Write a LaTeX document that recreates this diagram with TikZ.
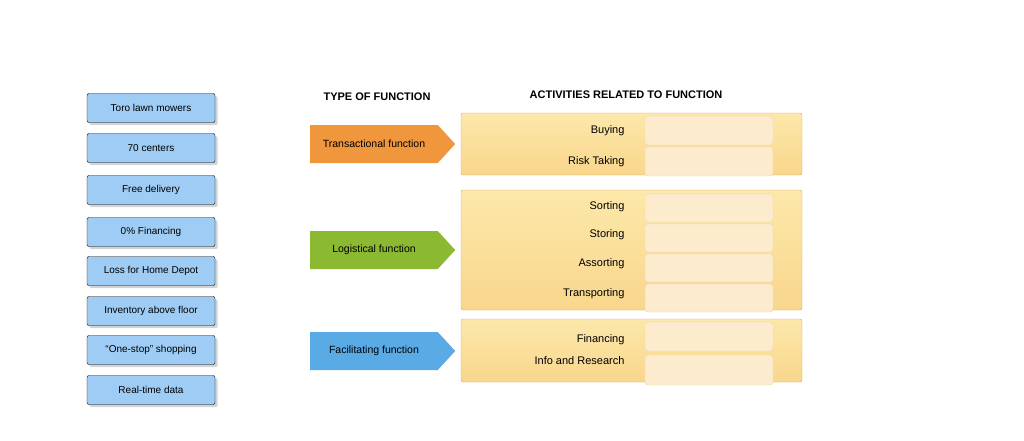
\documentclass[tikz,border=0pt]{standalone}
\usepackage{fontspec}
\setmainfont{Liberation Sans}
\usetikzlibrary{shapes.symbols,shadows}
\definecolor{itemblue}{RGB}{158,204,244}
\definecolor{panelfill}{RGB}{249,214,140}
\definecolor{paneltop}{RGB}{252,232,170}
\definecolor{paneldraw}{RGB}{214,170,100}
\definecolor{slotfill}{RGB}{252,236,205}
\definecolor{slotdraw}{RGB}{240,215,170}
\definecolor{tranorange}{RGB}{240,150,60}
\definecolor{loggreen}{RGB}{140,185,50}
\definecolor{facblue}{RGB}{90,170,230}
\tikzset{
  item/.style={draw=black,fill=itemblue,rounded corners=2pt,minimum width=128pt,minimum height=29pt,font=\fontsize{10}{12}\selectfont,drop shadow={opacity=.35}},
  kind/.style={signal,signal to=east,signal pointer angle=95,draw=none,minimum width=145pt,minimum height=38pt,font=\fontsize{10.5}{12}\selectfont,inner xsep=2pt},
  panel/.style={draw=paneldraw,top color=paneltop,bottom color=panelfill,rounded corners=2pt},
  slot/.style={draw=slotdraw,fill=slotfill,rounded corners=3pt},
  act/.style={anchor=east,font=\fontsize{11}{13}\selectfont},
  head/.style={font=\bfseries\fontsize{11}{13}\selectfont}
}
\begin{document}
\begin{tikzpicture}[x=1pt,y=-1pt]
\useasboundingbox (0,0) rectangle (1024,440);
% left items
\node[item] (toro)  at (151,108) {Toro lawn mowers};
\node[item] (cent)  at (151,148) {70 centers};
\node[item] (deliv) at (151,190) {Free delivery};
\node[item] (finan) at (151,232) {0\% Financing};
\node[item] (loss)  at (151,271) {Loss for Home Depot};
\node[item] (inv)   at (151,311) {Inventory above floor};
\node[item] (stop)  at (151,350) {“One-stop” shopping};
\node[item] (real)  at (151,390) {Real-time data};
% headers
\node[head] (typehd) at (377,97) {TYPE OF FUNCTION};
\node[head] (acthd)  at (626,95) {ACTIVITIES RELATED TO FUNCTION};
% panels
\draw[panel] (461,113) rectangle (802,175);
\draw[panel] (461,190) rectangle (802,310);
\draw[panel] (461,319) rectangle (802,382);
\foreach \ya/\yb in {116/145,147/176,194/222,224/252,254/282,284/312,322/351,355/385}
  \draw[slot] (645,\ya) rectangle (773,\yb);
% function types
\node[kind,fill=tranorange,anchor=west] (tran) at (310,144) {Transactional function\hspace{12pt}};
\node[kind,fill=loggreen,anchor=west]   (logi) at (310,250) {Logistical function\hspace{12pt}};
\node[kind,fill=facblue,anchor=west]    (faci) at (310,351) {Facilitating function\hspace{12pt}};
% activities
\node[act] (buy)   at (628,131) {Buying};
\node[act] (risk)  at (628,162) {Risk Taking};
\node[act] (sort)  at (628,207) {Sorting};
\node[act] (store) at (628,235) {Storing};
\node[act] (asrt)  at (628,264) {Assorting};
\node[act] (trans) at (628,294) {Transporting};
\node[act] (fin)   at (628,340) {Financing};
\node[act] (info)  at (628,361) {Info and Research};
\end{tikzpicture}
\end{document}
